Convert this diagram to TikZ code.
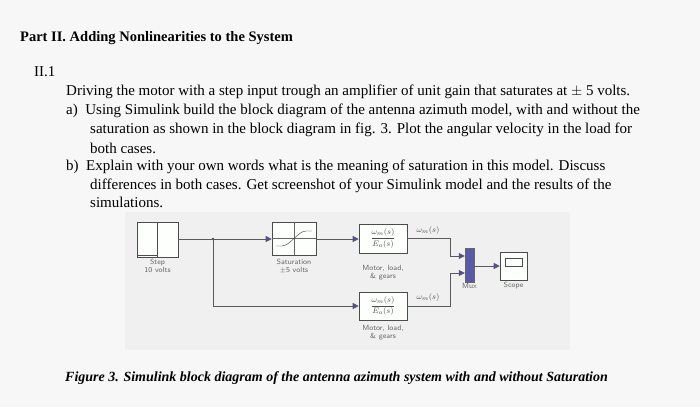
\documentclass[tikz,border=0pt]{standalone}
\usepackage{fontspec}
\setmainfont{Liberation Serif}
\usetikzlibrary{arrows.meta}
\begin{document}
\begin{tikzpicture}[x=1pt,y=-1pt,
 txt/.style={anchor=west,inner sep=0pt,font=\fontsize{15}{17}\selectfont},
 blk/.style={draw=black!70,fill=white!92!green!8,line width=0.6pt,inner sep=0pt},
 sm/.style={font=\fontsize{7.5}{8}\selectfont\sffamily,text=black!60,align=center,inner sep=0pt},
 wire/.style={draw=black!65,line width=0.6pt},
 arr/.style={wire,-{Triangle[length=6pt,width=6pt,fill=blue!40!gray]}}]
\fill[black!3] (0,0) rectangle (700,407);
\useasboundingbox (0,0) rectangle (700,407);
\fill[green!4!black!6] (125,212) rectangle (570,350);
\node[txt,font=\fontsize{14.5}{16}\selectfont\bfseries] (t) at (20,38) {Part II. Adding Nonlinearities to the System};
\node[txt] (s) at (34,72) {II.1};
\node[txt] (l1) at (66,92) {Driving the motor with a step input trough an amplifier of unit gain that saturates at $\pm$ 5 volts.};
\node[txt] (l2) at (66,111) {a)\ \ Using Simulink build the block diagram of the antenna azimuth model, with and without the};
\node[txt] (l3) at (90,130) {saturation as shown in the block diagram in fig. 3. Plot the angular velocity in the load for};
\node[txt] (l4) at (90,148) {both cases.};
\node[txt] (l5) at (66,167) {b)\ \ Explain with your own words what is the meaning of saturation in this model. Discuss};
\node[txt] (l6) at (90,186) {differences in both cases. Get screenshot of your Simulink model and the results of the};
\node[txt] (l7) at (90,202) {simulations.};
\node[txt,font=\fontsize{14}{16}\selectfont\bfseries\itshape] (cap) at (65,378) {Figure 3. Simulink block diagram of the antenna azimuth system with and without Saturation};
% blocks
\node[blk,minimum width=41pt,minimum height=35pt] (step) at (157.5,239.5) {};
\draw[black!70] (step.north) -- (step.south) (step.south west)++(1,-2) -- ++(19.5,0);
\node[sm] at (157.5,266) {Step\\10 volts};
\node[blk,minimum width=44pt,minimum height=33pt] (sat) at (294,238.5) {};
\draw[black!60] (sat.north) -- (sat.south) (sat.west) -- (sat.east);
\draw[black!80] (276,246) -- (282,246) .. controls (290,246) and (298,231) .. (306,231) -- (312,231);
\node[sm] at (294,266) {Saturation\\$\pm$5 volts};
\node[blk,minimum width=48pt,minimum height=29pt] (m1) at (383,238.5) {};
\node[font=\fontsize{8}{9}\selectfont\bfseries,text=black!70,inner sep=0pt] at (383,238.5) {$\displaystyle\frac{\omega_m(s)}{E_a(s)}$};
\node[sm] at (383,273) {Motor, load,\\\& gears};
\node[blk,minimum width=48pt,minimum height=28pt] (m2) at (383,306) {};
\node[font=\fontsize{8}{9}\selectfont\bfseries,text=black!70,inner sep=0pt] at (383,306) {$\displaystyle\frac{\omega_m(s)}{E_a(s)}$};
\node[sm] at (383,333) {Motor, load,\\\& gears};
\node[draw=black!60,fill=blue!30!gray,minimum width=9pt,minimum height=34pt,inner sep=0pt] (mux) at (469.5,265) {};
\node[sm] at (469.5,286) {Mux};
\node[blk,minimum width=27pt,minimum height=28pt] (sc) at (513.5,266) {};
\draw[black!70] (505,258) rectangle (522,266);
\node[sm] at (513.5,286) {Scope};
\node[font=\fontsize{8}{9}\selectfont,text=black!70,inner sep=0pt] (w1) at (428,230) {$\omega_m(s)$};
\node[font=\fontsize{8}{9}\selectfont,text=black!70,inner sep=0pt] (w2) at (428,297) {$\omega_m(s)$};
% wires
\coordinate (d) at (213,239);
\fill[black!70] (d) circle (1.3pt);
\draw[arr] (step.east |- d) -- (sat.west |- d);
\draw[arr] (sat.east |- d) -- (m1.west |- d);
\draw[arr] (d) |- (m2.west);
\draw[arr] (m1.east) -| (450,256) -- (mux.west |- 0,256);
\draw[arr] (m2.east) -| (450,273) -- (mux.west |- 0,273);
\draw[arr] (mux.east |- sc.west) -- (sc.west);
\end{tikzpicture}
\end{document}
